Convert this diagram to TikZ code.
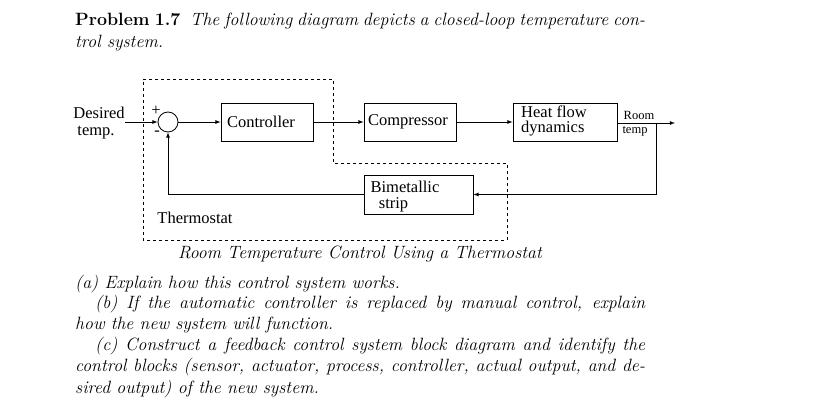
\documentclass[tikz,border=0pt]{standalone}
\usepackage{fontspec}
\newfontfamily\tim{Liberation Serif}
\begin{document}
\begin{tikzpicture}[x=1pt,y=-1pt,
  blk/.style={draw,line width=0.8pt,inner sep=0},
  ln/.style={line width=0.8pt},
  arr/.style={ln,-latex},
  lab/.style={font=\tim\fontsize{16.5}{17}\selectfont,align=left,inner sep=0},
  small/.style={font=\tim\fontsize{12.5}{13}\selectfont,inner sep=0},
  txt/.style={anchor=west,inner sep=0,font=\fontsize{17.8}{20}\selectfont\itshape}]
\useasboundingbox (0,0) rectangle (820,403);
% title
\node[txt] (t1) at (75,21) {\hbox to 570pt{{\upshape\bfseries Problem 1.7}\ \ The following diagram depicts a closed-loop temperature con-}};
\node[txt] (t2) at (75,43) {trol system.};
% dashed thermostat region
\draw[dashed,line width=0.6pt] (143,79) -- (333,79) -- (333,163) -- (507,163) -- (507,240) -- (143,240) -- cycle;
% blocks
\node[circle,draw,line width=0.8pt,minimum size=20pt,inner sep=0] (sum) at (168,122) {};
\node[blk,minimum width=92pt,minimum height=38pt] (ctrl) at (267,122) {};
\node[lab] (ctrlt) at (261,122) {Controller};
\node[blk,minimum width=92pt,minimum height=38pt] (comp) at (410,122) {};
\node[lab] (compt) at (408,122) {Compressor};
\node[blk,minimum width=104pt,minimum height=38pt] (heat) at (565,122) {};
\node[lab,align=left] (heatt) at (554,121) {Heat flow\\[-2pt]dynamics};
\node[blk,minimum width=109pt,minimum height=39pt] (bim) at (418.5,194.5) {};
\node[lab,align=left] (bimt) at (405,197) {Bimetallic\\[-1pt]\ \ strip};
% labels
\node[lab] (d1) at (99,113) {Desired};
\node[lab] (d2) at (96,133) {temp.};
\node[lab] (plus) at (156,111) {+};
\node[lab] (minus) at (157,133) {-};
\node[small] (r1) at (639,115) {Room};
\node[small] (r2) at (635,131) {temp};
\node[lab] (thermo) at (195,218) {Thermostat};
\coordinate (in) at (125,122);
\coordinate (out) at (675,123);
\coordinate (tap) at (656,123);
% connectors
\draw[arr] (in) -- (sum);
\draw[arr] (sum) -- (ctrl);
\draw[arr] (ctrl) -- (comp);
\draw[arr] (comp) -- (heat);
\draw[arr] (heat.east |- out) -- (out);
\draw[arr] (tap) |- (bim.east);
\draw[arr] (bim.west) -| (sum.south);
% caption
\node[inner sep=0,font=\fontsize{17.8}{20}\selectfont\itshape] (cap) at (360,254) {Room Temperature Control Using a Thermostat};
% text
\node[txt] (p1) at (75,284) {(a) Explain how this control system works.};
\node[txt] (p2) at (95,304) {\hbox to 550pt{(b) If the automatic controller is replaced by manual control, explain}};
\node[txt] (p3) at (75,325) {how the new system will function.};
\node[txt] (p4) at (95,346) {\hbox to 550pt{(c) Construct a feedback control system block diagram and identify the}};
\node[txt] (p5) at (75,367) {\hbox to 570pt{control blocks (sensor, actuator, process, controller, actual output, and de-}};
\node[txt] (p6) at (75,389) {sired output) of the new system.};
\end{tikzpicture}
\end{document}
